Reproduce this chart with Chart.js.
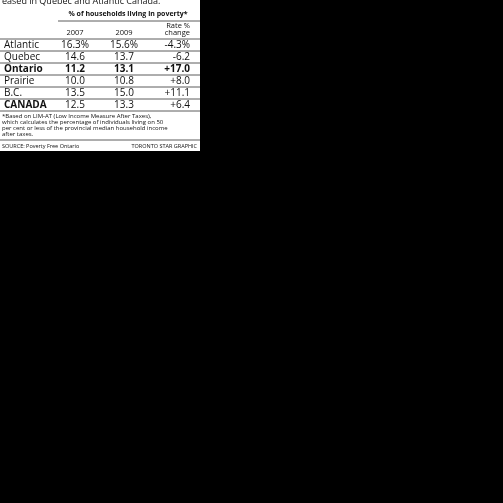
<!DOCTYPE html>
<html><head><meta charset="utf-8">
<script src="https://cdn.jsdelivr.net/npm/chart.js@4"></script>
<style>html,body{margin:0;padding:0;background:#000}</style>
</head><body>
<canvas id="c" width="503" height="503"></canvas>
<script>
// poverty table, drawn on a hidden Chart.js grid
let regions = ["Atlantic", "Quebec", "Ontario", "Prairie", "B.C.", "CANADA"];
let rate2007 = ["16.3%", "14.6", "11.2", "10.0", "13.5", "12.5"];
let rate2009 = ["15.6%", "13.7", "13.1", "10.8", "15.0", "13.3"];
let change = ["-4.3%", "-6.2", "+17.0", "+8.0", "+11.1", "+6.4"];
let boldRows = ["Ontario"];
let years = ["2007", "2009"];
let footnote = [
    "*Based on LIM-AT (Low Income Measure After Taxes),",
    "which calculates the percentage of individuals living on 50",
    "per cent or less of the provincial median household income",
    "after taxes."
];

let F = '"Open Sans", "DejaVu Sans", sans-serif';

let tablePlugin = {
    id: 'table',
    beforeDraw(chart) {
        let c = chart.ctx, X = chart.scales.x, Y = chart.scales.y;
        let px = v => X.getPixelForValue(v), py = v => Y.getPixelForValue(v);
        c.save();
        c.fillStyle = '#000';
        c.fillRect(0, 0, chart.width, chart.height);
        c.fillStyle = '#fff';
        c.fillRect(px(0), py(0), px(200) - px(0), py(151) - py(0));
        c.fillStyle = '#111';
        c.textBaseline = 'middle';
        c.font = '9px ' + F;
        c.fillText('eased in Quebec and Atlantic Canada.', px(2), py(1));
        c.font = 'bold 7px ' + F;
        c.textAlign = 'center';
        c.fillText('% of households living in poverty*', px(128), py(14));
        c.font = '7.5px ' + F;
        c.fillText(years[0], px(75), py(33));
        c.fillText(years[1], px(124), py(33));
        c.textAlign = 'right';
        c.fillText('Rate %', px(190), py(26));
        c.fillText('change', px(190), py(33));
        c.strokeStyle = '#333';
        c.lineWidth = 0.8;
        let hl = (x0, x1, y) => { c.beginPath(); c.moveTo(px(x0), py(y)); c.lineTo(px(x1), py(y)); c.stroke(); };
        hl(58, 200, 21);
        hl(0, 200, 39);
        regions.forEach((r, i) => {
            let y = 45 + i * 12;
            let b = boldRows.includes(r) ? 'bold ' : '';
            c.font = (r === 'CANADA' ? 'bold ' : b) + '10px ' + F;
            c.textAlign = 'left';
            c.fillText(r, px(4), py(y));
            c.font = b + '10px ' + F;
            c.textAlign = 'center';
            c.fillText(rate2007[i], px(75), py(y));
            c.fillText(rate2009[i], px(124), py(y));
            c.textAlign = 'right';
            c.fillText(change[i], px(190), py(y));
            hl(0, 200, y + 6);
        });
        c.font = '6px ' + F;
        c.textAlign = 'left';
        footnote.forEach((t, i) => c.fillText(t, px(2), py(116 + i * 6)));
        hl(0, 200, 140);
        c.font = '5.5px ' + F;
        c.fillText('SOURCE: Poverty Free Ontario', px(2), py(146));
        c.textAlign = 'right';
        c.fillText('TORONTO STAR GRAPHIC', px(197), py(146));
        c.restore();
    }
};

new Chart(document.getElementById('c'), {
    type: 'scatter',
    data: { datasets: [{ data: [] }] },
    options: {
        responsive: false,
        animation: false,
        layout: { padding: 0 },
        plugins: { legend: { display: false }, tooltip: { enabled: false } },
        scales: {
            x: { type: 'linear', min: 0, max: 503, display: false },
            y: { type: 'linear', min: 0, max: 503, reverse: true, display: false }
        }
    },
    plugins: [tablePlugin]
});
</script>
</body></html>
